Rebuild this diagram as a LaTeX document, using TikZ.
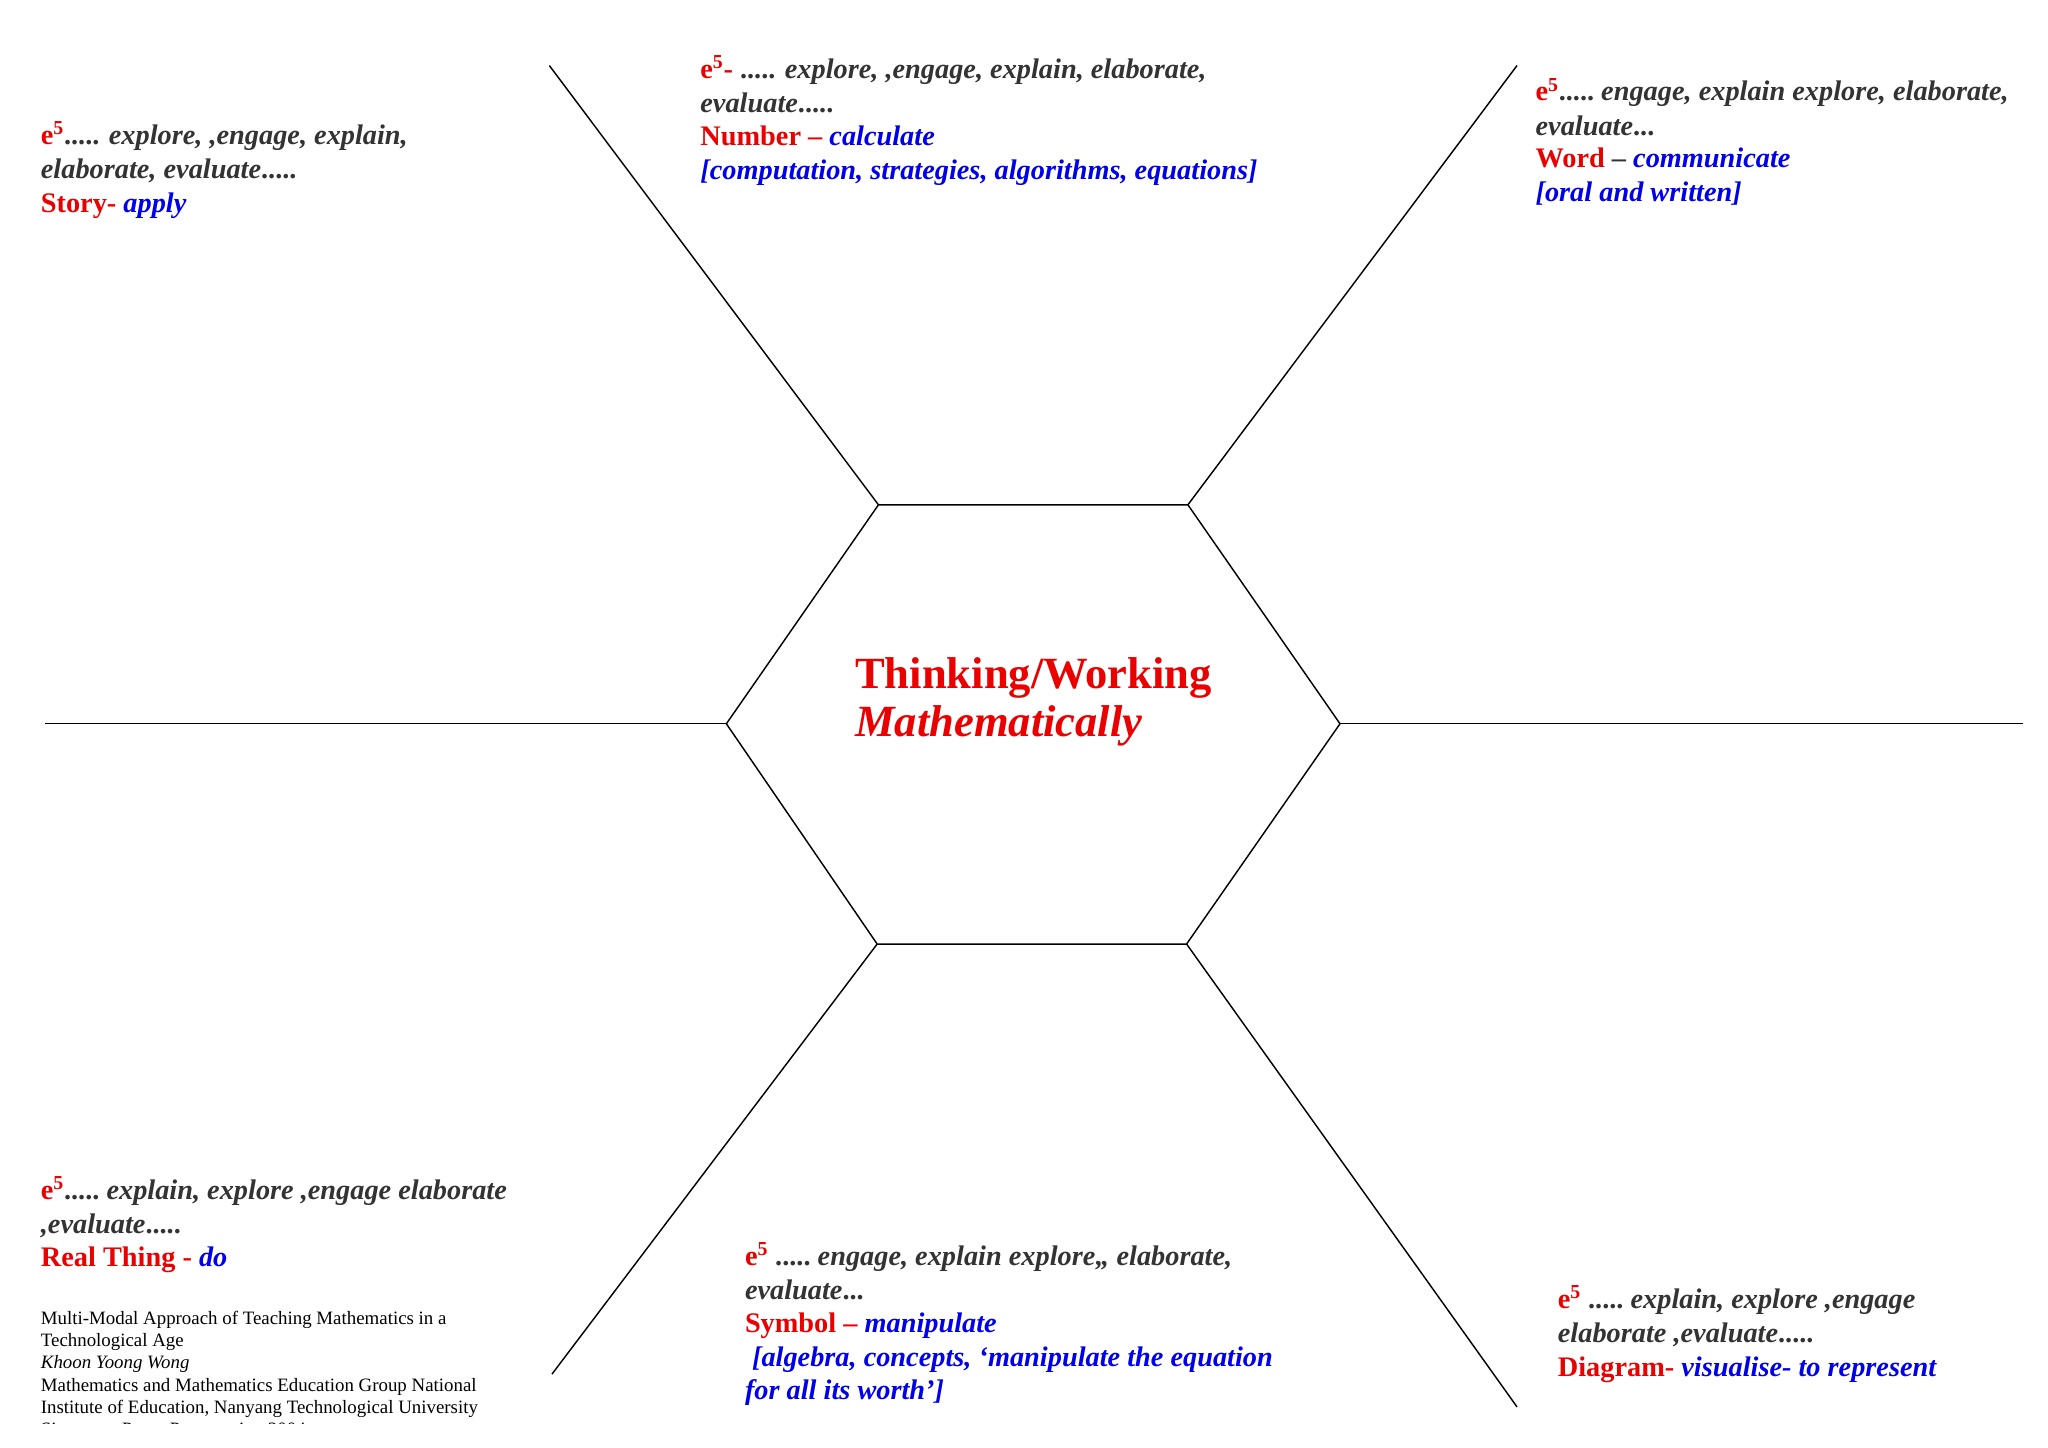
\documentclass[tikz,border=0pt]{standalone}
\usepackage{fontspec}
\setmainfont{Liberation Serif}
\definecolor{rd}{RGB}{235,0,0}
\definecolor{bl}{RGB}{0,0,235}
\definecolor{gr}{RGB}{51,51,51}
\newcommand{\Ef}{\textcolor{rd}{\upshape\bfseries e\textsuperscript{5}}}
\begin{document}
\begin{tikzpicture}[x=1pt,y=-1pt,
  t/.style={anchor=base west,inner sep=0pt,font=\fontsize{21.6}{26}\selectfont\bfseries\itshape,text=gr},
  f/.style={anchor=base west,inner sep=0pt,font=\fontsize{14.4}{17}\selectfont},
  ln/.style={line width=1.1pt}]
\useasboundingbox (0,0) rectangle (1562,1104);
\coordinate (h1) at (670,385); \coordinate (h2) at (906,385); \coordinate (h3) at (1022,552);
\coordinate (h4) at (905,720); \coordinate (h5) at (669,720); \coordinate (h6) at (554,552);
\draw[ln] (h1)--(h2)--(h3)--(h4)--(h5)--(h6)--cycle;
\coordinate (e1) at (419,50); \coordinate (e2) at (1157,50); \coordinate (e3) at (1543,552);
\coordinate (e4) at (1157,1073); \coordinate (e5) at (421,1048); \coordinate (e6) at (34,552);
\draw[ln] (h1)--(e1); \draw[ln] (h2)--(e2); \draw[ln] (h3)--(e3);
\draw[ln] (h4)--(e4); \draw[ln] (h5)--(e5); \draw[ln] (h6)--(e6);
% top left
\node[t] (a1) at (31,110) {\Ef\textcolor{gr}{\upshape\bfseries.....} explore, ,engage, explain,};
\node[t] (a2) at (31,136) {elaborate, evaluate\upshape.....};
\node[t] (a3) at (31,162) {\upshape\textcolor{rd}{Story-} \itshape\textcolor{bl}{apply}};
% top
\node[t] (b1) at (534,60) {\Ef\upshape\textcolor{rd}{-} ..... \itshape explore, ,engage, explain, elaborate,};
\node[t] (b2) at (534,86) {evaluate\upshape.....};
\node[t] (b3) at (534,111) {\upshape\textcolor{rd}{Number --} \itshape\textcolor{bl}{calculate}};
\node[t,text=bl] (b4) at (534,137) {[computation, strategies, algorithms, equations]};
% top right
\node[t] (c1) at (1171,77) {\Ef\upshape.....\itshape\ engage, explain explore, elaborate,};
\node[t] (c2) at (1171,103) {evaluate\upshape...};
\node[t] (c3) at (1171,128) {\upshape\textcolor{rd}{Word} -- \itshape\textcolor{bl}{communicate}};
\node[t,text=bl] (c4) at (1171,154) {[oral and written]};
% center
\node[anchor=base west,inner sep=0pt,font=\fontsize{34}{40}\selectfont\bfseries,text=rd] (m1) at (652,525) {Thinking/Working};
\node[anchor=base west,inner sep=0pt,font=\fontsize{34}{40}\selectfont\bfseries\itshape,text=rd] (m2) at (652,562) {Mathematically};
% bottom left
\node[t] (d1) at (31,915) {\Ef\upshape.....\itshape\ explain, explore ,engage elaborate};
\node[t] (d2) at (31,941) {,evaluate\upshape.....};
\node[t] (d3) at (31,966) {\upshape\textcolor{rd}{Real Thing -} \itshape\textcolor{bl}{do}};
\node[f] (g1) at (31,1010) {Multi-Modal Approach of Teaching Mathematics in a};
\node[f] (g2) at (31,1027) {Technological Age};
\node[f] (g3) at (31,1044) {\itshape Khoon Yoong Wong};
\node[f] (g4) at (31,1061) {Mathematics and Mathematics Education Group National};
\node[f] (g5) at (31,1078) {Institute of Education, Nanyang Technological University};
\begin{scope}
\clip (0,1000) rectangle (600,1086);
\node[f] (g6) at (31,1095) {Singapore Paper Presentation 2004};
\end{scope}
% bottom
\node[t] (s1) at (568,965) {\Ef\ \upshape.....\itshape\ engage, explain explore,, elaborate,};
\node[t] (s2) at (568,991) {evaluate\upshape...};
\node[t] (s3) at (568,1016) {\upshape\textcolor{rd}{Symbol --} \itshape\textcolor{bl}{manipulate}};
\node[t,text=bl] (s4) at (568,1042) {\ [algebra, concepts, `manipulate the equation};
\node[t,text=bl] (s5) at (568,1067) {for all its worth']};
% bottom right
\node[t] (r1) at (1188,998) {\Ef\ \upshape.....\itshape\ explain, explore ,engage};
\node[t] (r2) at (1188,1024) {elaborate ,evaluate\upshape.....};
\node[t] (r3) at (1188,1050) {\upshape\textcolor{rd}{Diagram-} \itshape\textcolor{bl}{visualise- to represent}};
\end{tikzpicture}
\end{document}
